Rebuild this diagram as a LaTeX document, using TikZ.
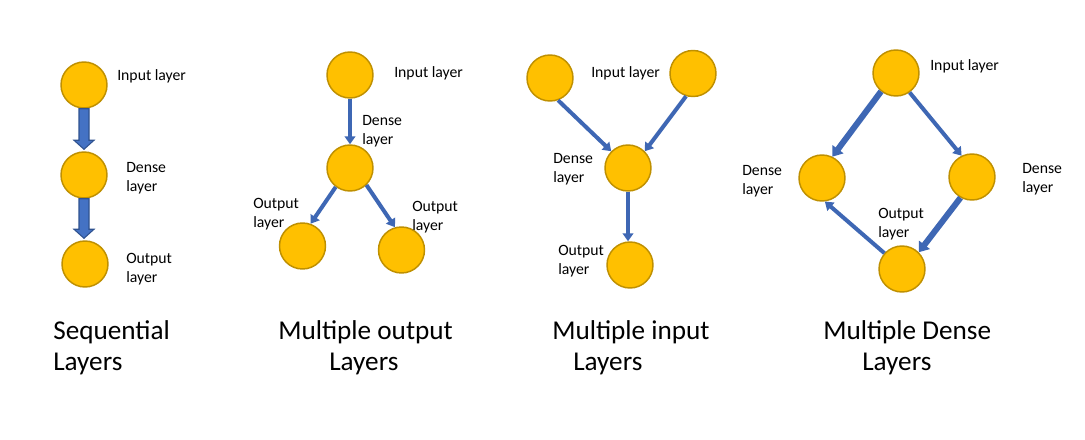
\documentclass[tikz,border=0pt]{standalone}
\usepackage{fontspec}
\setmainfont{Carlito}
\usetikzlibrary{arrows.meta,calc}
\definecolor{gold}{HTML}{FFC000}
\definecolor{goldline}{HTML}{BF9000}
\definecolor{arrowblue}{HTML}{4472C4}
\definecolor{arrowline}{HTML}{2F528F}
\definecolor{arrowmix}{HTML}{3E67B4}
\begin{document}
\begin{tikzpicture}[x=0.75pt,y=-0.75pt,
 layer/.style={circle,minimum size=34.5pt,inner sep=0,fill=gold,draw=goldline,line width=1.1pt},
 lbl/.style={font=\fontsize{11.8}{14.25}\selectfont,align=left,anchor=west,inner sep=0},
 ttl/.style={font=\fontsize{20.4}{24}\selectfont,anchor=base west,inner sep=0},
 conn/.style={draw=arrowmix,line width=3pt,-{Triangle[width=8pt,length=6pt]}},
 connthick/.style={conn,line width=4.5pt,-{Triangle[width=10pt,length=7pt]}},
 blockarrow/.style={fill=arrowblue,draw=arrowline,line width=0.8pt,line join=miter}]
\useasboundingbox[fill=white] (0,0) rectangle (1085,439);

% Sequential
\node[layer] (s1) at (84,85) {};
\node[layer] (s2) at (84,175) {};
\node[layer] (s3) at (85,264) {};
\coordinate (s2top) at (s1.south |- s2.north);
\coordinate (s3top) at (s2.south |- s3.north);
\path[blockarrow] ($(s1.south)+(-5,0)$) -- ($(s2top)+(-5,-11)$) -- ($(s2top)+(-10,-11)$) -- ($(s2top)+(0,-2)$) -- ($(s2top)+(10,-11)$) -- ($(s2top)+(5,-11)$) -- ($(s1.south)+(5,0)$) -- cycle;
\path[blockarrow] ($(s2.south)+(-5,0)$) -- ($(s3top)+(-5,-11)$) -- ($(s3top)+(-10,-11)$) -- ($(s3top)+(0,-2)$) -- ($(s3top)+(10,-11)$) -- ($(s3top)+(5,-11)$) -- ($(s2.south)+(5,0)$) -- cycle;
\node[lbl] (sl1) at (117,76.5) {Input layer};
\node[lbl] (sl2) at (126,178) {Dense\\layer};
\node[lbl] (sl3) at (126,269) {Output\\layer};
\node[ttl] (st1) at (53,339) {Sequential};
\node[ttl] (st2) at (53,370) {Layers};

% Multiple output
\node[layer] (o1) at (350,75) {};
\node[layer] (o2) at (350,168) {};
\node[layer] (o3) at (302.5,246) {};
\node[layer] (o4) at (401.5,250) {};
\draw[conn] (o1.south) -- (o2.north);
\draw[conn] (o2.-127) -- (o3.70);
\draw[conn] (o2.-46) -- (o4.106);
\node[lbl] (ol1) at (394,73.5) {Input layer};
\node[lbl] (ol2) at (362,131) {Dense\\layer};
\node[lbl] (ol3) at (253,214) {Output\\layer};
\node[lbl] (ol4) at (412,217) {Output\\layer};
\node[ttl] (ot1) at (278,339) {Multiple output};
\node[ttl] (ot2) at (329,370) {Layers};

% Multiple input
\node[layer] (i1) at (550,78) {};
\node[layer] (i2) at (693,73.5) {};
\node[layer] (i3) at (628,168) {};
\node[layer] (i4) at (630,265) {};
\draw[conn] (i1.-70) -- (i3.135);
\draw[conn] (i2.-107) -- (i3.45);
\draw[conn] (i3.south) -- (i3.south |- i4.north);
\node[lbl] (il1) at (591,73.5) {Input layer};
\node[lbl] (il2) at (553,169) {Dense\\layer};
\node[lbl] (il3) at (558,261) {Output\\layer};
\node[ttl] (it1) at (552,339) {Multiple input};
\node[ttl] (it2) at (573,370) {Layers};

% Multiple dense
\node[layer] (d1) at (896,73) {};
\node[layer] (d2) at (822,178) {};
\node[layer] (d3) at (972,177) {};
\node[layer] (d4) at (902,269) {};
\draw[connthick] (d1.-129) -- (d2.64);
\draw[conn] (d1.-55) -- (d3.116);
\draw[connthick] (d3.-119) -- (d4.45);
\draw[conn] (d4.138) -- (d2.-83);
\node[lbl] (dl1) at (930,66.5) {Input layer};
\node[lbl] (dl2) at (742,181) {Dense\\layer};
\node[lbl] (dl3) at (1022,179) {Dense\\layer};
\node[lbl] (dl4) at (878,224) {Output\\layer};
\node[ttl] (dt1) at (823,339) {Multiple Dense};
\node[ttl] (dt2) at (862,370) {Layers};
\end{tikzpicture}
\end{document}
